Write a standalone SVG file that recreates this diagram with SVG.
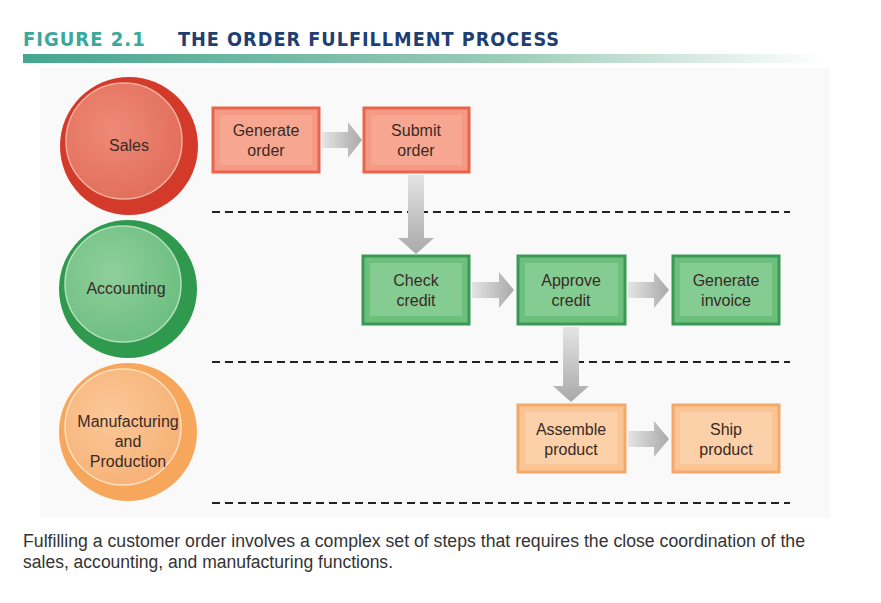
<svg xmlns="http://www.w3.org/2000/svg" width="881" height="603" viewBox="0 0 881 603">
<defs>
<linearGradient id="bar" x1="0" x2="1"><stop offset="0" stop-color="#45a68f"/><stop offset="0.6" stop-color="#9ccbb9"/><stop offset="1" stop-color="#ffffff"/></linearGradient>
<radialGradient id="gr" cx="0.4" cy="0.4" r="0.6"><stop offset="0" stop-color="#ee8a78"/><stop offset="1" stop-color="#e2705c"/></radialGradient>
<radialGradient id="gg" cx="0.4" cy="0.4" r="0.6"><stop offset="0" stop-color="#8fcf9c"/><stop offset="1" stop-color="#6fbf82"/></radialGradient>
<radialGradient id="go" cx="0.4" cy="0.4" r="0.6"><stop offset="0" stop-color="#fbc898"/><stop offset="1" stop-color="#f7b379"/></radialGradient>
<linearGradient id="ah" x1="0" x2="1"><stop offset="0" stop-color="#e4e4e4"/><stop offset="1" stop-color="#a9a9a9"/></linearGradient>
<linearGradient id="av" x1="0" y1="0" x2="0" y2="1"><stop offset="0" stop-color="#e4e4e4"/><stop offset="1" stop-color="#a9a9a9"/></linearGradient>
</defs>
<style>
.t{font-family:"Liberation Sans",Arial,sans-serif;font-size:16px;fill:#3a2a25;text-anchor:middle}
.dash{stroke:#222;stroke-width:2;stroke-dasharray:8,5}
.r{fill:#f59a85;stroke:#e8654d;stroke-width:3}
.ri{fill:#f7a791}
.g{fill:#6cc07c;stroke:#3a9a55;stroke-width:3}
.gi{fill:#85cc93}
.o{fill:#fbc495;stroke:#f4a96a;stroke-width:3}
.oi{fill:#fcd0a8}
.h{font-family:"DejaVu Sans Condensed","DejaVu Sans",sans-serif;font-weight:bold;font-size:20px;letter-spacing:1px}
</style>
<rect width="881" height="603" fill="#fff"/>
<rect x="40" y="68" width="790" height="450" fill="#f9f9f9"/>
<text class="h" x="23" y="46" fill="#3aa89a">FIGURE 2.1</text>
<text class="h" x="178" y="46" fill="#1f3f73" textLength="382" lengthAdjust="spacingAndGlyphs">THE ORDER FULFILLMENT PROCESS</text>
<rect x="23" y="54" width="800" height="9" fill="url(#bar)"/>

<g id="connectors">
<line class="dash" x1="212" y1="212" x2="790" y2="212"/>
<line class="dash" x1="212" y1="362" x2="790" y2="362"/>
<line class="dash" x1="212" y1="503" x2="790" y2="503"/>
<polygon points="322,132 348,132 348,122 362,140 348,158 348,148 322,148" fill="url(#ah)"/>
<polygon points="472,282 499,282 499,272 514,290 499,308 499,298 472,298" fill="url(#ah)"/>
<polygon points="628,282 654,282 654,272 669,290 654,308 654,298 628,298" fill="url(#ah)"/>
<polygon points="628,431 654,431 654,421 669,439 654,457 654,447 628,447" fill="url(#ah)"/>
<polygon points="408,175 424,175 424,238 434,238 416,254 398,238 408,238" fill="url(#av)"/>
<polygon points="563,327 579,327 579,386 589,386 571,402 553,386 563,386" fill="url(#av)"/>
</g>

<g id="sales"><circle cx="129" cy="146" r="69" fill="#d33a2a"/><circle cx="124" cy="141" r="58" fill="url(#gr)" stroke="#f0b0a0" stroke-width="1.5"/><text class="t" x="129" y="151">Sales</text></g>
<g id="accounting"><circle cx="128" cy="289" r="69" fill="#2f9a4e"/><circle cx="123" cy="284" r="58" fill="url(#gg)" stroke="#b5e0bd" stroke-width="1.5"/><text class="t" x="126" y="294">Accounting</text></g>
<g id="manufacturing"><circle cx="128" cy="432" r="69" fill="#f6a75c"/><circle cx="123" cy="427" r="58" fill="url(#go)" stroke="#fde0c0" stroke-width="1.5"/><text class="t" x="128" y="427">Manufacturing</text><text class="t" x="128" y="447">and</text><text class="t" x="128" y="467">Production</text></g>

<g id="generate-order"><rect class="r" x="213" y="108" width="106" height="64"/><rect class="ri" x="220" y="115" width="92" height="50"/><text class="t" x="266" y="136">Generate</text><text class="t" x="266" y="156">order</text></g>
<g id="submit-order"><rect class="r" x="364" y="108" width="105" height="64"/><rect class="ri" x="371" y="115" width="91" height="50"/><text class="t" x="416" y="136">Submit</text><text class="t" x="416" y="156">order</text></g>
<g id="check-credit"><rect class="g" x="363" y="256" width="106" height="68"/><rect class="gi" x="370" y="263" width="92" height="53"/><text class="t" x="416" y="286">Check</text><text class="t" x="416" y="306">credit</text></g>
<g id="approve-credit"><rect class="g" x="518" y="256" width="107" height="68"/><rect class="gi" x="525" y="263" width="93" height="53"/><text class="t" x="571" y="286">Approve</text><text class="t" x="571" y="306">credit</text></g>
<g id="generate-invoice"><rect class="g" x="673" y="256" width="106" height="68"/><rect class="gi" x="680" y="263" width="92" height="53"/><text class="t" x="726" y="286">Generate</text><text class="t" x="726" y="306">invoice</text></g>
<g id="assemble-product"><rect class="o" x="518" y="405" width="107" height="67"/><rect class="oi" x="525" y="412" width="93" height="52"/><text class="t" x="571" y="435">Assemble</text><text class="t" x="571" y="455">product</text></g>
<g id="ship-product"><rect class="o" x="673" y="405" width="106" height="67"/><rect class="oi" x="680" y="412" width="92" height="52"/><text class="t" x="726" y="435">Ship</text><text class="t" x="726" y="455">product</text></g>

<g font-family="Liberation Sans Narrow, Liberation Sans, sans-serif" font-size="18" fill="#333">
<text x="23" y="547" textLength="782" lengthAdjust="spacingAndGlyphs">Fulfilling a customer order involves a complex set of steps that requires the close coordination of the</text>
<text x="23" y="568" textLength="370" lengthAdjust="spacingAndGlyphs">sales, accounting, and manufacturing functions.</text>
</g>
</svg>
